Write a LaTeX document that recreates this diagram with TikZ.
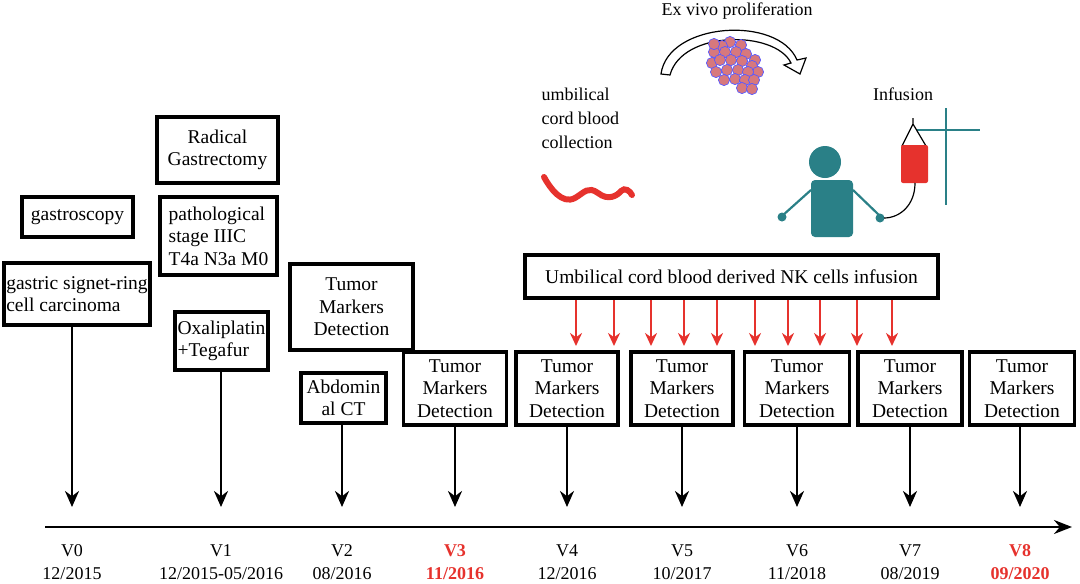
\documentclass[tikz,border=0pt]{standalone}
\usepackage{fontspec}
\setmainfont{Liberation Serif}
\usetikzlibrary{arrows.meta,shapes.arrows}
\definecolor{teal2}{RGB}{42,128,135}
\definecolor{redc}{RGB}{230,50,45}
\definecolor{cellc}{RGB}{215,120,125}
\begin{document}
\begin{tikzpicture}[x=1pt,y=-1pt,
 bx/.style={draw,line width=3.6pt,inner sep=0pt,font=\fontsize{19.5}{22.5}\selectfont,align=center},
 dn/.style={line width=2.4pt,-{Stealth[length=16pt,width=14pt]}},
 rd/.style={redc,line width=2.6pt,-{Stealth[length=13pt,width=12pt]}},
 lb/.style={font=\fontsize{18}{20}\selectfont,align=center}]
\useasboundingbox (0,0) rectangle (1080,584);
\node[bx,minimum width=111pt,minimum height=40pt] (gs) at (77.5,217) {gastroscopy};
\node[bx,minimum width=146pt,minimum height=62pt,align=left] (gc) at (77,294) {gastric signet-ring\\cell carcinoma};
\node[bx,minimum width=121pt,minimum height=66pt] (rg) at (217.5,150) {Radical\\Gastrectomy};
\node[bx,minimum width=117pt,minimum height=78pt,align=left] (ps) at (218.5,236) {pathological\\stage IIIC\\T4a N3a M0};
\node[bx,minimum width=93pt,minimum height=58pt,align=left] (ox) at (221.5,341) {Oxaliplatin\\+Tegafur};
\node[bx,minimum width=123pt,minimum height=86pt] (tm2) at (351.5,307) {Tumor\\Markers\\Detection};
\node[bx,minimum width=85pt,minimum height=50pt] (ct) at (343.5,398) {Abdomin\\al CT};
\foreach \n/\x/\w in {t3/455/103,t4/567/102,t5/682/102,t6/797/105,t7/910/104,t8/1022/105}
  \node[bx,minimum width=\w pt,minimum height=73pt] (\n) at (\x,388.5) {Tumor\\Markers\\Detection};
\node[bx,minimum width=413pt,minimum height=43pt] (nk) at (731.5,276.5) {Umbilical cord blood derived NK cells infusion};
% axis
\coordinate (a0) at (45,527); \coordinate (a1) at (1072,527);
\draw[line width=2.4pt,-{Stealth[length=18pt,width=14pt]}] (a0) -- (a1);
\foreach \s/\x in {gc/72,ox/221,ct/342,t3/455,t4/567,t5/682,t6/797,t7/910,t8/1020}{
  \coordinate (e\s) at (\x,507);
  \draw[dn] (\s.south -| e\s) -- (e\s);}
\foreach \x in {576,614,651,684,717,755,788,820,857,892}{
  \coordinate (r\x) at (\x,346);
  \draw[rd] (nk.south -| r\x) -- (r\x);}
% labels
\foreach \x/\v/\d in {72/V0/{12/2015},221/V1/{12/2015-05/2016},342/V2/{08/2016},567/V4/{12/2016},682/V5/{10/2017},797/V6/{11/2018},910/V7/{08/2019}}{
  \node[lb] (v\v) at (\x,551) {\v}; \node[lb] (d\v) at (\x,574) {\d};}
\node[lb,text=redc,font=\fontsize{18}{20}\selectfont\bfseries] (vV3) at (455,551) {V3};
\node[lb,text=redc,font=\fontsize{18}{20}\selectfont\bfseries] (dV3) at (455,574) {11/2016};
\node[lb,text=redc,font=\fontsize{18}{20}\selectfont\bfseries] (vV8) at (1020,551) {V8};
\node[lb,text=redc,font=\fontsize{18}{20}\selectfont\bfseries] (dV8) at (1020,574) {09/2020};
% illustration
\node[lb] (ev) at (737,11) {Ex vivo proliferation};
\node[lb,align=left,anchor=north west,font=\fontsize{18}{24}\selectfont] (uc) at (538,84) {umbilical\\cord blood\\collection};
\node[lb] (inf) at (903,94) {Infusion};
\draw[line width=1.2pt,fill=white] (661,74) .. controls (668,22) and (778,15) .. (797,60) -- (806,58) -- (800,74) -- (784,65) -- (791,63)
  .. controls (775,30) and (682,30) .. (670,75) -- cycle;
\foreach \p in {(730,42),(722,46),(741,45),(714,52),(725,52),(736,52),(746,54),(755,60),(712,63),(720,60),(731,60),(742,61),(752,66),(758,72),(716,72),(727,70),(738,70),(748,72),(724,80),(735,79),(745,80),(754,80),(742,88),(752,89),(714,44)}
  \draw[blue!65!white,fill=cellc,line width=0.7pt] \p circle (5.6);
\draw[redc,line width=6pt,line cap=round] (544,177) .. controls (550,188) and (562,205) .. (575,198) .. controls (585,192) and (588,186) .. (598,193) .. controls (608,201) and (617,196) .. (621,191) .. controls (625,187) and (630,191) .. (632,195);
\fill[teal2] (825,162) circle (16);
\fill[teal2,rounded corners=4pt] (811,180) rectangle (853,237);
\draw[teal2,line width=2.2pt] (811,190) -- (782,216) (853,190) -- (880,216);
\fill[teal2] (782,217) circle (4.5) (880,218) circle (4.5);
\draw[teal2,line width=2.5pt] (946,108) -- (946,205) (917,130) -- (980,130);
\draw[line width=1.2pt] (913,118) -- (913,124) (913,124) -- (902,146) (913,124) -- (926,146);
\fill[redc,rounded corners=2pt] (901,145) rectangle (928,183);
\draw[line width=1.2pt] (915,183) .. controls (915,205) and (900,218) .. (884,218);
\end{tikzpicture}
\end{document}
